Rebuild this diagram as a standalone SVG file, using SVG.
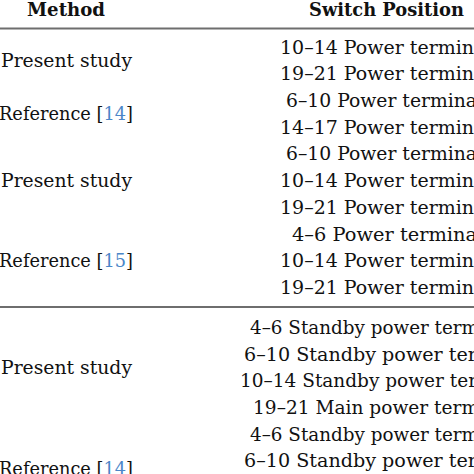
<svg xmlns="http://www.w3.org/2000/svg" width="474" height="474" viewBox="0 0 474 474">
<style>
text{font-family:"DejaVu Serif","Liberation Serif",serif;font-size:19px;fill:#111}
.h{font-weight:bold}
.c{fill:#4a86c8}
.rule{stroke:#6e6e6e;stroke-width:2}
</style>
<rect width="474" height="474" fill="#fff"/>
<g id="header">
<text class="h" x="27" y="16" textLength="78" lengthAdjust="spacingAndGlyphs">Method</text>
<text class="h" x="309" y="16" textLength="155" lengthAdjust="spacingAndGlyphs">Switch Position</text>
</g>
<g id="rules">
<line class="rule" x1="0" y1="28.5" x2="474" y2="28.5"/>
<line class="rule" x1="0" y1="307" x2="474" y2="307"/>
</g>
<g id="methods">
<text x="1" y="67" textLength="131" lengthAdjust="spacingAndGlyphs">Present study</text>
<text x="-1" y="120" textLength="134" lengthAdjust="spacingAndGlyphs">Reference [<tspan class="c">14</tspan>]</text>
<text x="1" y="187" textLength="131" lengthAdjust="spacingAndGlyphs">Present study</text>
<text x="-1" y="267" textLength="134" lengthAdjust="spacingAndGlyphs">Reference [<tspan class="c">15</tspan>]</text>
<text x="1" y="374" textLength="131" lengthAdjust="spacingAndGlyphs">Present study</text>
<text x="-1" y="475" textLength="134" lengthAdjust="spacingAndGlyphs">Reference [<tspan class="c">14</tspan>]</text>
</g>
<g id="positions">
<text x="280" y="53.5" textLength="194" lengthAdjust="spacingAndGlyphs">10–14 Power termin</text>
<text x="280" y="80" textLength="194" lengthAdjust="spacingAndGlyphs">19–21 Power termin</text>
<text x="286" y="107" textLength="191" lengthAdjust="spacingAndGlyphs">6–10 Power termina</text>
<text x="280" y="133.5" textLength="194" lengthAdjust="spacingAndGlyphs">14–17 Power termin</text>
<text x="286" y="160" textLength="191" lengthAdjust="spacingAndGlyphs">6–10 Power termina</text>
<text x="280" y="187" textLength="194" lengthAdjust="spacingAndGlyphs">10–14 Power termin</text>
<text x="280" y="214" textLength="194" lengthAdjust="spacingAndGlyphs">19–21 Power termin</text>
<text x="292" y="240.5" textLength="185" lengthAdjust="spacingAndGlyphs">4–6 Power termina</text>
<text x="280" y="267" textLength="194" lengthAdjust="spacingAndGlyphs">10–14 Power termin</text>
<text x="280" y="294" textLength="194" lengthAdjust="spacingAndGlyphs">19–21 Power termin</text>
<text x="250" y="334" textLength="229" lengthAdjust="spacingAndGlyphs">4–6 Standby power term</text>
<text x="244" y="360.5" textLength="233" lengthAdjust="spacingAndGlyphs">6–10 Standby power ter</text>
<text x="240" y="387" textLength="237" lengthAdjust="spacingAndGlyphs">10–14 Standby power ter</text>
<text x="253" y="414" textLength="226" lengthAdjust="spacingAndGlyphs">19–21 Main power term</text>
<text x="250" y="440.5" textLength="229" lengthAdjust="spacingAndGlyphs">4–6 Standby power term</text>
<text x="244" y="467" textLength="233" lengthAdjust="spacingAndGlyphs">6–10 Standby power ter</text>
</g>
</svg>
